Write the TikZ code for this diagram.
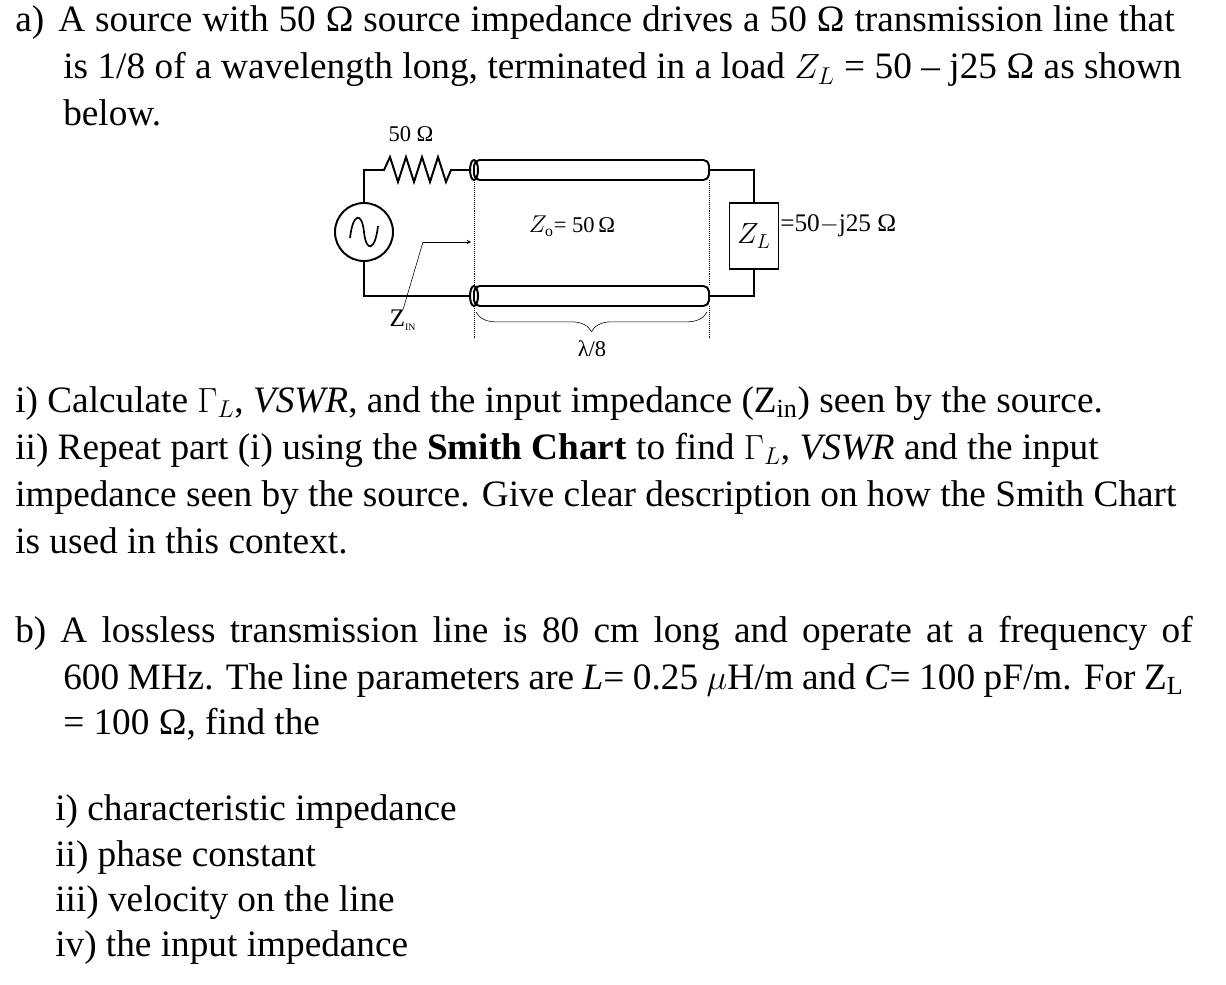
\documentclass[tikz,border=0pt]{standalone}
\usepackage{fontspec}
\setmainfont{Liberation Serif}
\usetikzlibrary{positioning, decorations.pathreplacing, arrows}
\tikzstyle{txt} = [anchor=base west, inner sep=0pt, font=\fontsize{26.5}{30}\selectfont]
\tikzstyle{lbl} = [inner sep=0pt, font=\fontsize{16}{18}\selectfont]
\tikzstyle{wire} = [line width=1.4pt]
\tikzstyle{arrow} = [thin,->,>=stealth]

\begin{document}
\begin{tikzpicture}[x=0.025cm, y=-0.025cm]
\useasboundingbox (0,0) rectangle (1226,985);

% question a
\node (a1) [txt] at (15,32) {a)\hspace{10pt}\makebox[27.9cm][s]{A source with 50 Ω source impedance drives a 50 Ω transmission line that}};
\node (a2) [txt] at (63,79) {\makebox[27.95cm][s]{is 1/8 of a wavelength long, terminated in a load $Z_L$ = 50 -- j25 Ω as shown}};
\node (a3) [txt] at (63,126) {below.};

% circuit
\node (src) [circle, draw, wire, minimum size=1.45cm, inner sep=0pt] at (364,232) {};
\draw[line width=1.2pt] (350,238) .. controls (353,212) and (362,212) .. (364,232) .. controls (366,252) and (375,252) .. (378,226);
\node (zl) [draw, wire, minimum width=1.225cm, minimum height=1.65cm, inner sep=0pt, font=\fontsize{20}{22}\selectfont] at (754,236) {$Z_L$};
\draw[wire] (src.north) -- (364,170) -- (384,170)
  -- (390,157) -- (398,182) -- (406,157) -- (414,182) -- (422,157) -- (430,182) -- (438,157) -- (446,182) -- (451,170) -- (471,170);
\draw[wire] (src.south) -- (364,296) -- (471,296);
\foreach \yy in {170,296} {
  \draw[wire, rounded corners=4pt] (474,\yy-10) rectangle (709,\yy+10);
  \draw[wire] (474,\yy) ellipse (4 and 10);
}
\draw[wire] (709,170) -- (754,170) -- (zl.north);
\draw[wire] (zl.south) -- (754,296) -- (709,296);
\draw[densely dotted, thin] (474,306) -- (474,339);
\draw[densely dotted, thin] (709,306) -- (709,339);
\draw[densely dotted, thin] (474,180) -- (474,286);
\draw[densely dotted, thin] (709,180) -- (709,286);
\draw[thin, decorate, decoration={brace, mirror, amplitude=14pt}] (476,312) -- (707,312);
\node (lam) [lbl] at (592,349) {λ/8};
\node (zo) [lbl] at (572,226) {$Z_{\mathrm{o}}$= 50\,Ω};
\node (res) [lbl] at (411,134) {50 Ω};
\node (zlv) [lbl, font=\fontsize{18}{20}\selectfont, anchor=west] at (780,226) {=50$-$j25 Ω};
\node (zin) [lbl, font=\fontsize{18}{20}\selectfont] at (403,320) {Z\textsubscript{\scriptsize IN}};
\coordinate (zt) at (471,242);
\draw[thin] (zin.north) -- (423,242);
\draw[arrow] (423,242) -- (zt);

% part i, ii
\node (p1) [txt] at (15,412) {i) Calculate $\Gamma_L$, \textit{VSWR}, and the input impedance (Z\textsubscript{in}) seen by the source.};
\node (p2) [txt] at (15,459) {ii) Repeat part (i) using the \textbf{Smith Chart} to find $\Gamma_L$, \textit{VSWR} and the input};
\node (p3) [txt] at (15,506) {impedance seen by the source. Give clear description on how the Smith Chart};
\node (p4) [txt] at (15,553) {is used in this context.};

% question b
\node (b1) [txt] at (15,642) {b)\hspace{10pt}\makebox[28.3cm][s]{A lossless transmission line is 80 cm long and operate at a frequency of}};
\node (b2) [txt] at (63,689) {\makebox[28cm][s]{600 MHz. The line parameters are \textit{L}= 0.25 $\mu$H/m and \textit{C}= 100 pF/m. For Z\textsubscript{L}}};
\node (b3) [txt] at (63,734) {= 100 Ω, find the};

\node (q1) [txt] at (55,820) {i) characteristic impedance};
\node (q2) [txt] at (55,866) {ii) phase constant};
\node (q3) [txt] at (55,911) {iii) velocity on the line};
\node (q4) [txt] at (55,956) {iv) the input impedance};
\end{tikzpicture}
\end{document}
